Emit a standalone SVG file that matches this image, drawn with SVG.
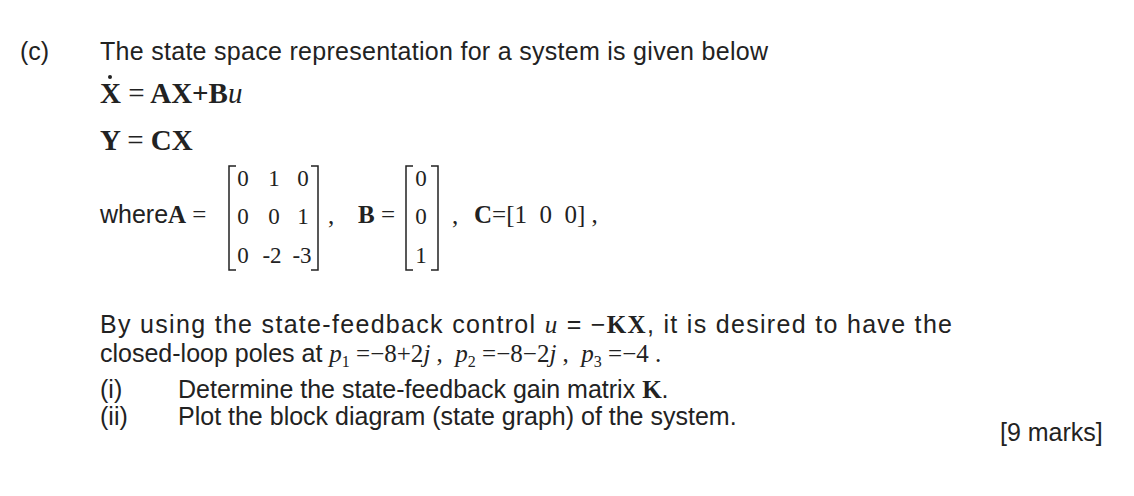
<svg xmlns="http://www.w3.org/2000/svg" width="1134" height="496" viewBox="0 0 1134 496">
<style>
.s{font-family:"Liberation Sans",Arial,sans-serif;font-size:25px;fill:#222}
.m{font-family:"Liberation Serif","Times New Roman",serif;font-size:25px;fill:#222}
.b{font-family:"Liberation Serif","Times New Roman",serif;font-size:29px;font-weight:bold;fill:#222}
.br{fill:none;stroke:#222;stroke-width:1.5}
.sub{font-size:16px}
.i{font-style:italic}
.k{font-weight:bold}
</style>
<rect width="1134" height="496" fill="#fff"/>
<text class="s" x="20" y="60">(c)</text>
<text class="s" x="100" y="60" textLength="668">The state space representation for a system is given below</text>
<text class="b" x="100" y="103">X <tspan font-weight="normal">=</tspan> AX+B<tspan font-style="italic" font-weight="normal">u</tspan></text>
<circle cx="110" cy="77" r="2" fill="#222"/>
<text class="b" x="100" y="150">Y <tspan font-weight="normal">=</tspan> CX</text>
<text class="s" x="100" y="223">where</text>
<text class="m" x="168" y="223"><tspan class="k">A</tspan> =</text>
<path class="br" d="M236,166H229V270H236M311,166H318V270H311"/>
<g class="m" text-anchor="middle" style="font-size:23px">
<text x="243" y="186">0</text><text x="274" y="186">1</text><text x="303" y="186">0</text>
<text x="243" y="224">0</text><text x="274" y="224">0</text><text x="303" y="224">1</text>
<text x="243" y="263">0</text><text x="272" y="263">-2</text><text x="302" y="263">-3</text>
<text x="421" y="186">0</text><text x="421" y="224">0</text><text x="421" y="263">1</text>
</g>
<text class="m" x="328" y="224">,</text>
<text class="m" x="358" y="223"><tspan class="k">B</tspan> =</text>
<path class="br" d="M413,166H406V270H413M431,166H438V270H431"/>
<text class="m" x="452" y="224">,</text>
<text class="m" x="474" y="223" xml:space="preserve"><tspan class="k">C</tspan>=[1  0  0] ,</text>
<text class="s" x="100" y="333" textLength="852" xml:space="preserve">By using the state-feedback control <tspan class="m i">u</tspan> = −<tspan class="m k">KX</tspan>, it is desired to have the</text>
<text class="s" x="100" y="362" xml:space="preserve">closed-loop poles at <tspan class="m i">p</tspan><tspan class="m sub" dy="5">1</tspan><tspan class="m" dy="-5"> =−8+2<tspan class="i">j</tspan> ,  </tspan><tspan class="m i">p</tspan><tspan class="m sub" dy="5">2</tspan><tspan class="m" dy="-5"> =−8−2<tspan class="i">j</tspan> ,  </tspan><tspan class="m i">p</tspan><tspan class="m sub" dy="5">3</tspan><tspan class="m" dy="-5"> =−4 .</tspan></text>
<text class="s" x="100" y="398">(i)</text>
<text class="s" x="178" y="398">Determine the state-feedback gain matrix <tspan class="m k">K</tspan>.</text>
<text class="s" x="100" y="425">(ii)</text>
<text class="s" x="178" y="425">Plot the block diagram (state graph) of the system.</text>
<text class="s" x="1000" y="441">[9 marks]</text>
</svg>
